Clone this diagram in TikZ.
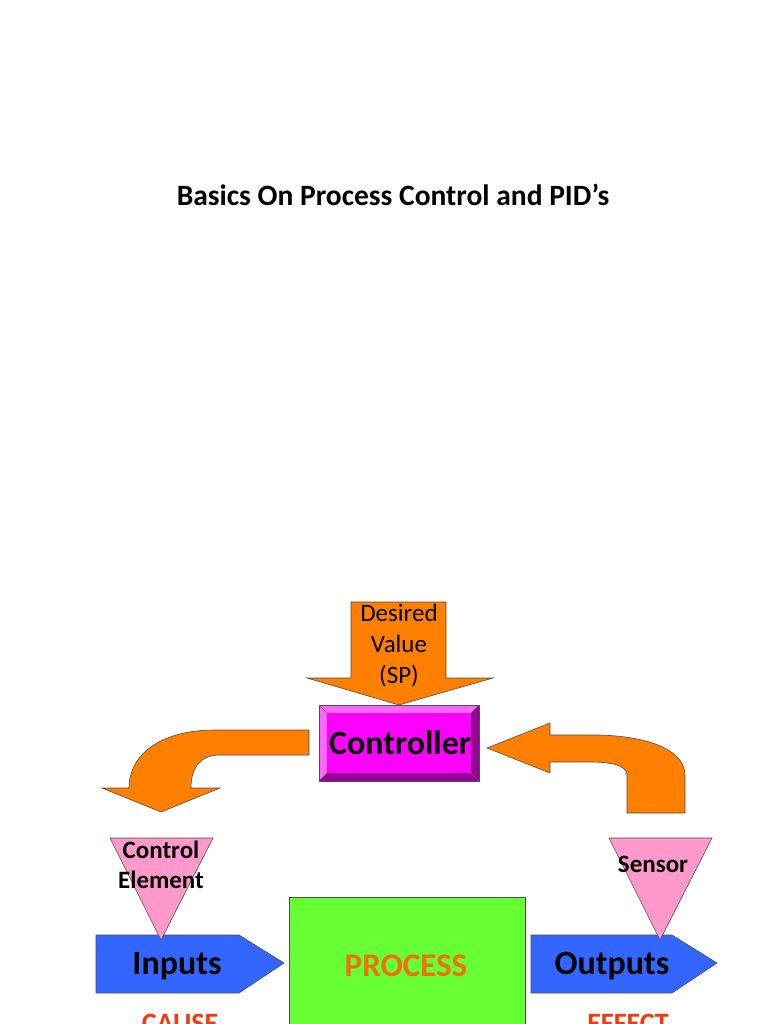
\documentclass[tikz,border=0pt]{standalone}
\usepackage{fontspec}
\setmainfont{Carlito}
\definecolor{orng}{HTML}{FF8000}
\definecolor{mag}{HTML}{FF00FF}
\definecolor{magL}{HTML}{FF66FF}
\definecolor{magD}{HTML}{990099}
\definecolor{blu}{HTML}{3366FF}
\definecolor{pnk}{HTML}{FF99CC}
\definecolor{grn}{HTML}{66FF33}
\definecolor{proc}{HTML}{F07010}
\definecolor{redt}{HTML}{F03C14}
\tikzset{shp/.style={draw=black!70,line width=0.6pt,line join=miter},
  lbl/.style={inner sep=0pt,align=center,font=\bfseries}}
\begin{document}
\begin{tikzpicture}[x={(1pt,0)},y={(0,-1pt)}]
\useasboundingbox (0,0) rectangle (768,1024);
\clip (0,0) rectangle (768,1024);
\node[lbl,font=\bfseries\fontsize{29.5}{34}\selectfont] (title) at (393,195) {Basics On Process Control and PID’s};
% desired value arrow
\draw[shp,fill=orng] (351,602)--(446,602)--(446,678)--(493,678)--(399,705)--(307,678)--(351,678)--cycle;
\node[inner sep=0pt,align=center,font=\fontsize{25}{31}\selectfont] (sp) at (399,646) {Desired\\Value\\(SP)};
% controller
\fill[mag] (319,705) rectangle (479,781);
\fill[magL] (319,705)--(479,705)--(471,713)--(327,713)--(327,773)--(319,781)--cycle;
\fill[magD] (479,705)--(479,781)--(319,781)--(327,773)--(471,773)--(471,713)--cycle;
\fill[mag] (327,713) rectangle (471,773);
\draw[shp] (319,705) rectangle (479,781);
\draw[black!60,line width=0.4pt] (319,705)--(327,713) (479,705)--(471,713) (319,781)--(327,773) (479,781)--(471,773) (327,713) rectangle (471,773);
\node[lbl,font=\bfseries\fontsize{34}{38}\selectfont] (ctrl) at (400,743) {Controller};
% left curved arrow
\draw[shp,fill=orng] (309,730) -- (215,730) .. controls (160,730) and (129,755) .. (129,788) -- (102,788) -- (161,812) -- (220,788) -- (191,788) .. controls (191,768) and (200,755) .. (220,755) -- (309,755) -- cycle;
% right curved arrow
\draw[shp,fill=orng] (487,748) -- (550,723) -- (550,735) -- (600,735) .. controls (660,737) and (685,755) .. (685,775) -- (685,813) -- (627,813) -- (627,775) .. controls (627,765) and (610,762) .. (590,762) -- (550,762) -- (550,773) -- cycle;
% inputs / outputs
\draw[shp,fill=blu] (96,935)--(239,935)--(284,963)--(239,993)--(96,993)--cycle;
\node[lbl,font=\bfseries\fontsize{34}{38}\selectfont] (in) at (177,966) {Inputs};
\draw[shp,fill=blu] (531,935)--(672,935)--(717,963)--(672,993)--(531,993)--cycle;
\node[lbl,font=\bfseries\fontsize{34}{38}\selectfont] (out) at (612,966) {Outputs};
% triangles
\draw[shp,fill=pnk] (110,838)--(213,838)--(161,940)--cycle;
\node[lbl,font=\bfseries\fontsize{25}{30}\selectfont] (ce) at (161,865) {Control\\Element};
\draw[shp,fill=pnk] (609,838)--(712,838)--(660,940)--cycle;
\node[lbl,font=\bfseries\fontsize{25}{28}\selectfont] (sen) at (653,864) {Sensor};
% process
\draw[shp,fill=grn] (289,897) rectangle (525,1040);
\node[lbl,text=proc,font=\bfseries\fontsize{33}{36}\selectfont] (pr) at (406,966) {PROCESS};
\node[lbl,text=redt,anchor=north,font=\bfseries\fontsize{28}{32}\selectfont] (cause) at (180,1014) {CAUSE};
\node[lbl,text=redt,anchor=north,font=\bfseries\fontsize{28}{32}\selectfont] (eff) at (628,1014) {EFFECT};
\end{tikzpicture}
\end{document}
